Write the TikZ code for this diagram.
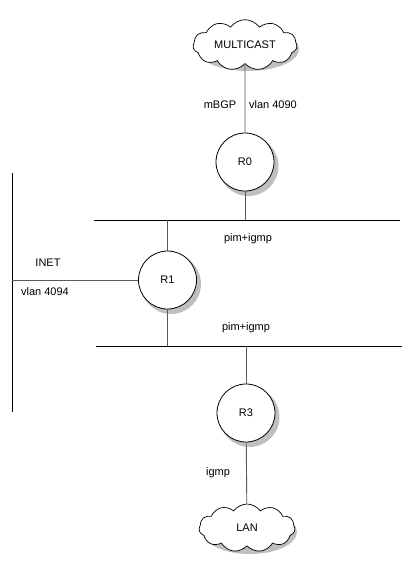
\documentclass[tikz,border=0pt]{standalone}
\usepackage{fontspec}
\setmainfont{Liberation Sans}
\usetikzlibrary{shapes.symbols,backgrounds}
\begin{document}
\begin{tikzpicture}[x=1pt,y=-1pt,
  router/.style={circle,draw=black,fill=white,line width=0.8pt,minimum size=58pt,inner sep=0pt,font=\fontsize{11}{13}\selectfont},
  netcloud/.style={cloud,cloud puffs=11,cloud puff arc=110,aspect=2.2,draw=black,fill=white,line width=0.7pt,inner sep=0pt,font=\fontsize{11}{13}\selectfont},
  shadowfill/.style={fill=black!25,draw=none},
  link/.style={draw=black!65,line width=0.9pt},
  bus/.style={draw=black,line width=0.9pt},
  lbl/.style={inner sep=0pt,font=\fontsize{11}{13}\selectfont}
]
\useasboundingbox (0,0) rectangle (413,583);
% buses
\coordinate (b1l) at (94,220);
\coordinate (b1r) at (400,220);
\coordinate (b2l) at (96,346);
\coordinate (b2r) at (402,346);
\coordinate (vt) at (12,173);
\coordinate (vb) at (12,412);
\draw[bus] (b1l) -- (b1r);
\draw[bus] (b2l) -- (b2r);
\draw[bus] (vt) -- (vb);
% nodes
\node[netcloud,minimum width=104pt,minimum height=48pt] (mc) at (245,45) {MULTICAST};
\node[router] (r0) at (245,162) {R0};
\node[router] (r1) at (167.5,280) {R1};
\node[router] (r3) at (246,413) {R3};
\node[netcloud,minimum width=96pt,minimum height=48pt] (lan) at (247,528) {LAN};
% connectors
\draw[link] (mc) -- (r0);
\draw[link] (r0) -- (r0 |- b1l);
\draw[link] (r1 |- b1l) -- (r1);
\draw[link] (r1) -- (r1 |- b2l);
\draw[link] (r1) -- (r1 -| vt);
\draw[link] (r3 |- b2l) -- (r3);
\draw[link] (r3) -- (lan);
% labels
\node[lbl] (l1) at (220,105) {mBGP};
\node[lbl] (l2) at (273,105) {vlan 4090};
\node[lbl] (l3) at (248,239) {pim+igmp};
\node[lbl] (l4) at (246,328) {pim+igmp};
\node[lbl] (l5) at (48,263) {INET};
\node[lbl] (l6) at (45,292) {vlan 4094};
\node[lbl] (l7) at (218,473) {igmp};
% shadows
\begin{pgfonlayer}{background}
\fill[white] (0,0) rectangle (413,583);
\fill[shadowfill] (248.5,166) circle (30pt);
\fill[shadowfill] (171,284) circle (30pt);
\fill[shadowfill] (249.5,417) circle (30pt);
\fill[shadowfill] (250,532) ellipse (47pt and 22pt);
\fill[shadowfill] (248,49) ellipse (51pt and 22pt);
\end{pgfonlayer}
\end{tikzpicture}
\end{document}
